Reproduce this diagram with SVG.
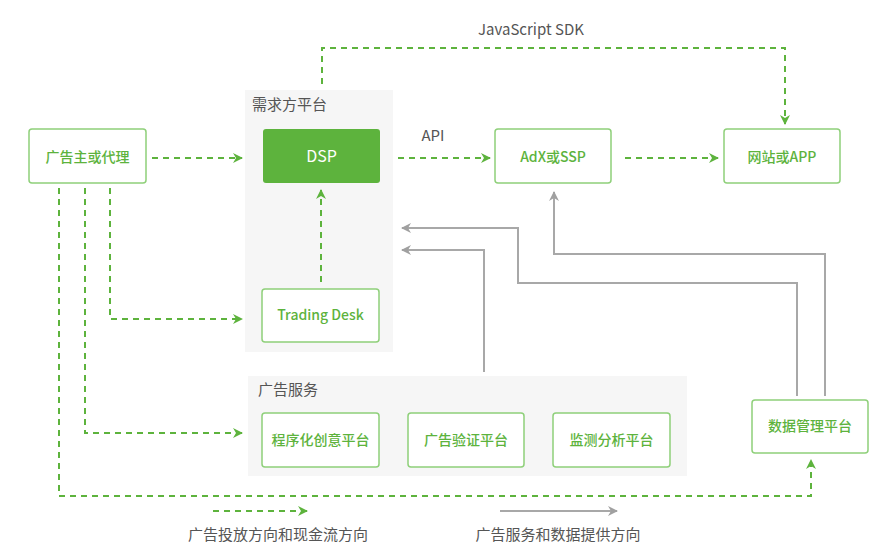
<svg xmlns="http://www.w3.org/2000/svg" width="876" height="548" viewBox="0 0 876 548">
<style>
text{font-family:"Noto Sans CJK SC","Noto Sans",sans-serif;}
.box{fill:#fff;stroke:#8fd07a;stroke-width:1.5;}
.gt{fill:#5db33d;font-size:14px;text-anchor:middle;font-weight:500;}
.dash{fill:none;stroke:#5db33d;stroke-width:2;stroke-dasharray:6,5;}
.gray{fill:none;stroke:#a8a8a8;stroke-width:2;}
.lbl{fill:#555;font-size:15px;}
</style>
<defs>
<marker id="ga" viewBox="0 0 10 10" refX="9" refY="5" markerWidth="5" markerHeight="5" orient="auto"><path d="M0,0 L10,5 L0,10 L3,5z" fill="#5db33d"/></marker>
<marker id="ya" viewBox="0 0 10 10" refX="9" refY="5" markerWidth="5" markerHeight="5" orient="auto"><path d="M0,0 L10,5 L0,10 L3,5z" fill="#a0a0a0"/></marker>
</defs>
<rect width="876" height="548" fill="#fff"/>
<g id="panel-dsp"><rect x="245" y="90" width="148" height="262" fill="#f6f6f6"/><text x="252" y="110" class="lbl">需求方平台</text></g>
<g id="panel-svc"><rect x="248" y="376" width="439" height="100" fill="#f6f6f6"/><text x="258" y="395" class="lbl">广告服务</text></g>
<g id="advertiser"><rect x="29" y="129" width="117" height="54" rx="3" class="box"/><text x="87.5" y="162" class="gt" font-size="16">广告主或代理</text></g>
<g id="dsp"><rect x="263" y="129" width="117" height="54" rx="3" fill="#5db33d"/><text x="321.5" y="162" fill="#fff" font-size="16" text-anchor="middle">DSP</text></g>
<g id="trading"><rect x="262" y="289" width="117" height="53" rx="3" class="box"/><text x="320.5" y="320" class="gt" font-size="12">Trading Desk</text></g>
<g id="adx"><rect x="495" y="129" width="116" height="54" rx="3" class="box"/><text x="553" y="162" class="gt" font-size="16">AdX或SSP</text></g>
<g id="site"><rect x="724" y="129" width="116" height="54" rx="3" class="box"/><text x="782" y="162" class="gt" font-size="16">网站或APP</text></g>
<g id="creative"><rect x="262" y="413" width="117" height="54" rx="3" class="box"/><text x="320.5" y="445" class="gt">程序化创意平台</text></g>
<g id="verify"><rect x="408" y="413" width="116" height="54" rx="3" class="box"/><text x="466" y="445" class="gt">广告验证平台</text></g>
<g id="monitor"><rect x="553" y="413" width="117" height="54" rx="3" class="box"/><text x="611.5" y="445" class="gt">监测分析平台</text></g>
<g id="dmp"><rect x="752" y="400" width="116" height="53" rx="3" class="box"/><text x="810" y="431" class="gt">数据管理平台</text></g>
<g id="connectors">
<path class="dash" d="M322 84 V48 H785 V124" marker-end="url(#ga)"/>
<path class="dash" d="M152 158 H242" marker-end="url(#ga)"/>
<path class="dash" d="M398 158 H490" marker-end="url(#ga)"/>
<path class="dash" d="M625 158 H718" marker-end="url(#ga)"/>
<path class="dash" d="M321 282 V190" marker-end="url(#ga)"/>
<path class="dash" d="M110 188 V319 H242" marker-end="url(#ga)"/>
<path class="dash" d="M85 188 V433 H242" marker-end="url(#ga)"/>
<path class="dash" d="M59 188 V496 H811 V460" marker-end="url(#ga)"/>
<path class="gray" d="M797 396 V283 H518 V228 H402" marker-end="url(#ya)"/>
<path class="gray" d="M484 372 V250 H402" marker-end="url(#ya)"/>
<path class="gray" d="M825 396 V254 H554 V192" marker-end="url(#ya)"/>
<text x="531" y="35" class="lbl" text-anchor="middle">JavaScript SDK</text>
<text x="433" y="141" class="lbl" text-anchor="middle">API</text>
</g>
<g id="legend">
<path class="dash" d="M213 511 H307" marker-end="url(#ga)"/>
<text x="278" y="540" fill="#555" font-size="15" text-anchor="middle">广告投放方向和现金流方向</text>
<path class="gray" d="M500 511 H617" marker-end="url(#ya)"/>
<text x="558" y="540" fill="#555" font-size="15" text-anchor="middle">广告服务和数据提供方向</text>
</g>
</svg>
